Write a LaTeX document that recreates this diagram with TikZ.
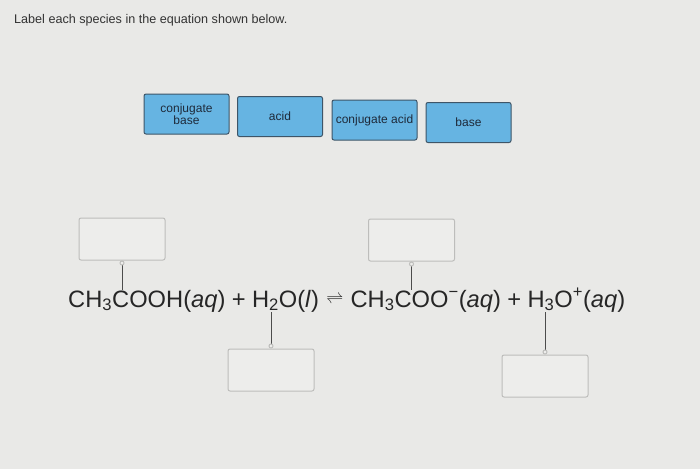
\documentclass[tikz,border=0pt]{standalone}
\usepackage{fontspec}
\setmainfont{Liberation Sans}
\usetikzlibrary{positioning,arrows.meta}

\definecolor{bg}{HTML}{E9E9E7}
\definecolor{tilefill}{HTML}{66B4E2}
\definecolor{tileedge}{HTML}{3E5568}
\definecolor{ink}{HTML}{1E2A3A}
\definecolor{slotedge}{HTML}{BDBDBB}
\definecolor{slotfill}{HTML}{EDEDEB}

\begin{document}
\begin{tikzpicture}
[	x=1pt,y=-1pt,
	tile/.style={rectangle,draw=tileedge,fill=tilefill,line width=1,rounded corners=2,minimum height=40,minimum width=85,align=center,text=ink,font=\fontsize{12}{12.5}\selectfont},
	slot/.style={rectangle,draw=slotedge,fill=slotfill,line width=1,rounded corners=2,minimum height=42,minimum width=86},
	species/.style={inner sep=0,text=black!85,font=\fontsize{23.7}{25}\selectfont},
	pin/.style={line width=1,draw=black!70,{Circle[open,length=5pt,color=slotedge,fill=slotfill]}-}
]

\useasboundingbox[fill=bg] (0,0) rectangle (700,469);

\node[anchor=base west,inner sep=0,text=black!80,font=\fontsize{12.6}{12.6}\selectfont] (title) at (14,23) {Label each species in the equation shown below.};

% answer tiles
\node[tile] (cb) at (186.5,114) {conjugate\\base};
\node[tile] (a)  at (280,116.5) {acid};
\node[tile] (ca) at (374.5,120) {conjugate acid};
\node[tile] (b)  at (468.5,122.5) {base};

% empty drop boxes
\node[slot] (s1) at (122,239) {};
\node[slot] (s2) at (411.5,240) {};
\node[slot] (s3) at (271,370) {};
\node[slot] (s4) at (545,376) {};

% the equation
\node[species,anchor=base west] (sp1) at (68,307) {CH\textsubscript{3}COOH(\textit{aq})};
\node[species,base right=6 of sp1] (p1) {+};
\node[species,base right=6 of p1] (sp2) {H\textsubscript{2}O(\textit{l})};
\node[species,base right=7 of sp2] (eq) {\raisebox{3pt}{\fontsize{19}{19}\selectfont$\rightleftharpoons$}};
\node[species,base right=7 of eq] (sp3) {CH\textsubscript{3}COO\textsuperscript{−}(\textit{aq})};
\node[species,base right=6 of sp3] (p2) {+};
\node[species,base right=6 of p2] (sp4) {H\textsubscript{3}O\textsuperscript{+}(\textit{aq})};

\draw[pin] (s1.south) -- (s1.south |- sp1.north);
\draw[pin] (s2.south) -- (s2.south |- sp3.north);
\draw[pin] (s3.north) -- (s3.north |- sp2.south);
\draw[pin] (s4.north) -- (s4.north |- sp4.south);

\end{tikzpicture}
\end{document}
